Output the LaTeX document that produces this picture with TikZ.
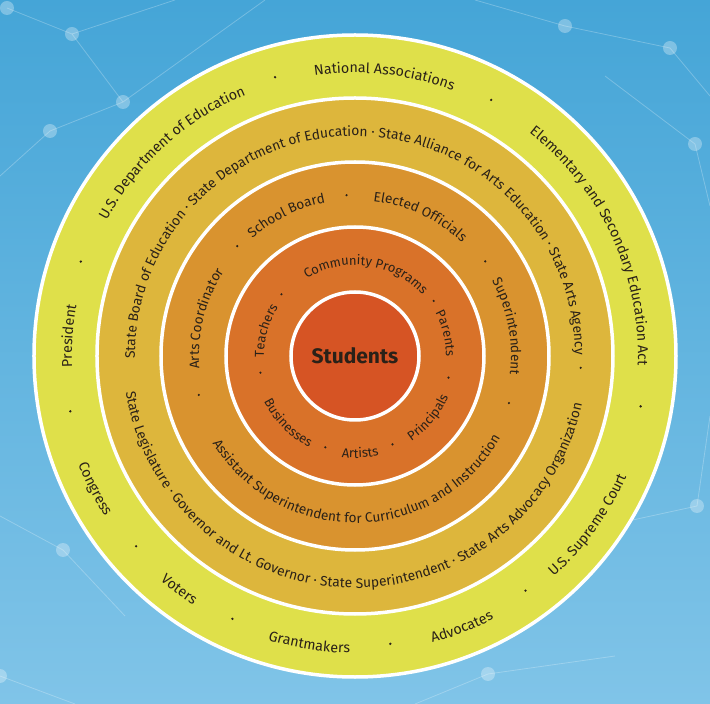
\documentclass[tikz,border=0pt]{standalone}
\usepackage{fontspec}
\setmainfont{Fira Sans}
\usetikzlibrary{decorations.text}
\definecolor{bgtop}{HTML}{45A5D7}
\definecolor{bgbot}{HTML}{80C4E8}
\definecolor{ringA}{HTML}{DFE04A}
\definecolor{ringB}{HTML}{DDB63C}
\definecolor{ringC}{HTML}{D9932F}
\definecolor{ringD}{HTML}{D97229}
\definecolor{core}{HTML}{D65424}
\definecolor{ink}{HTML}{2A2118}
\newcommand\cwtext[4]{\path[decorate,decoration={text along path,text align=center,text color=ink,text={|#3|#4}}] (#2+70:#1) arc[start angle=#2+70,end angle=#2-70,radius=#1];}
\newcommand\ccwtext[4]{\path[decorate,decoration={text along path,text align=center,text color=ink,text={|#3|#4}}] (#2-70:#1) arc[start angle=#2-70,end angle=#2+70,radius=#1];}
\newcommand\cwarc[5]{\path[decorate,decoration={text along path,text align=center,text color=ink,text={|#4|#5}}] (#2:#1) arc[start angle=#2,end angle=#3,radius=#1];}
\newcommand\ccwarc[5]{\path[decorate,decoration={text along path,text align=center,text color=ink,text={|#4|#5}}] (#2:#1) arc[start angle=#2,end angle=#3,radius=#1];}
\newcommand\fo{\fontsize{14.3}{17}\selectfont}
\newcommand\fr{\fontsize{13.8}{16}\selectfont}
\newcommand\fq{\fontsize{13.6}{16}\selectfont}
\newcommand\fc{\fontsize{13}{15}\selectfont}
\tikzset{ringdisk/.style={draw=white,line width=3.5pt},sep/.style={fill=ink}, net/.style={draw=white,opacity=0.25,line width=0.8pt},netdot/.style={fill=white,opacity=0.3}}
\begin{document}
\begin{tikzpicture}[x=1pt,y=1pt]
\useasboundingbox (-355,-348) rectangle (355,356);
\shade[top color=bgtop,bottom color=bgbot] (-355,-348) rectangle (355,356);
% network
\foreach \a/\b in {{-348,348}/{-283,322},{-283,322}/{-232,254},{-232,254}/{-305,225},{-283,322}/{-180,356},{-232,254}/{-90,356},{210,330}/{315,308},{315,308}/{355,260},{210,330}/{120,356},{340,212}/{355,150},{340,212}/{250,280},{342,-150}/{250,-170},{342,-150}/{355,-60},{-292,-194}/{-355,-160},{-292,-194}/{-230,-260},{133,-318}/{60,-348},{133,-318}/{260,-300},{-355,-320}/{-280,-348},{-305,225}/{-355,180}}
  \draw[net] (\a) -- (\b);
\foreach \p in {{-348,348},{-283,322},{-232,254},{-305,225},{210,330},{315,308},{340,212},{342,-150},{-292,-194},{133,-318},{-355,-320}}
  \fill[netdot] (\p) circle (7);
% rings
\filldraw[ringdisk,fill=ringA] (0,0) circle (321);
\filldraw[ringdisk,fill=ringB] (0,0) circle (258);
\filldraw[ringdisk,fill=ringC] (0,0) circle (194);
\filldraw[ringdisk,fill=ringD] (0,0) circle (129);
\filldraw[ringdisk,fill=core] (0,0) circle (64);
\node[text=ink,font=\fontsize{21}{24}\selectfont\bfseries] (students) at (0,0) {Students};
% outer ring
\cwtext{283}{84}{\fo}{National Associations}
\cwtext{283}{132}{\fo}{U.S. Department of Education}
\cwtext{283}{176}{\fo}{President}
\cwtext{283}{25}{\fo}{Elementary and Secondary Education Act}
\ccwtext{297}{207}{\fo}{Congress}
\ccwtext{297}{233}{\fo}{Voters}
\ccwtext{297}{261}{\fo}{Grantmakers}
\ccwtext{297}{291.5}{\fo}{Advocates}
\ccwtext{297}{324}{\fo}{U.S. Supreme Court}
\foreach \t in {106,62,161,191,221,245,277,306,350} \fill[sep] (\t:290) circle (1.3);
% ring 2
\cwarc{220}{182}{-1}{\fr}{State Board of Education · State Department of Education · State Alliance for Arts Education · State Arts Agency}
\ccwarc{232}{183}{354}{\fr}{State Legislature · Governor and Lt. Governor · State Superintendent · State Arts Advocacy Organization}
\fill[sep] (-3:226) circle (1.2);
% ring 3
\cwtext{156}{166}{\fq}{Arts Coordinator}
\cwtext{156}{116}{\fq}{School Board}
\cwtext{156}{65}{\fq}{Elected Officials}
\cwtext{156}{11}{\fq}{Superintendent}
\ccwtext{167}{271}{\fq}{Assistant Superintendent for Curriculum and Instruction}
\foreach \t in {137,93,36,-17,194} \fill[sep] (\t:161) circle (1.2);
% ring 4
\cwtext{91}{164}{\fc}{Teachers}
\cwtext{91}{82}{\fc}{Community Programs}
\cwtext{91}{14}{\fc}{Parents}
\ccwtext{102}{225}{\fc}{Businesses}
\ccwtext{102}{273}{\fc}{Artists}
\ccwtext{102}{320}{\fc}{Principals}
\foreach \t in {140,35,-13,190,252,293} \fill[sep] (\t:96) circle (1.2);
\end{tikzpicture}
\end{document}
